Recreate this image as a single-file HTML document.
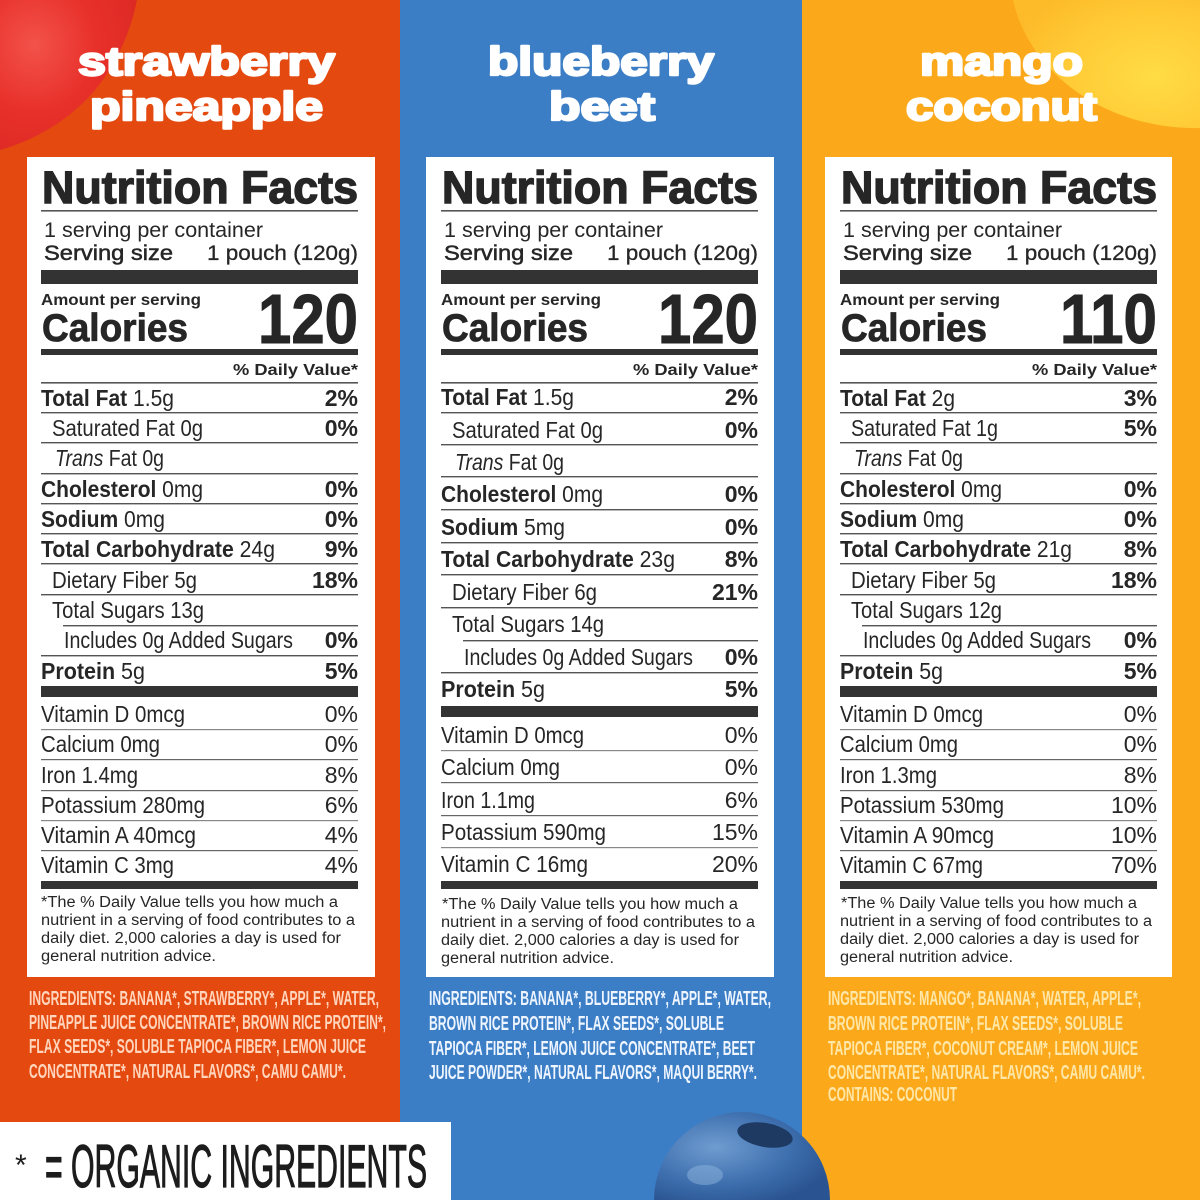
<!DOCTYPE html>
<html><head><meta charset="utf-8"><style>
html,body{margin:0;padding:0;background:#fff;width:1200px;height:1200px;overflow:hidden;}
svg{display:block;font-family:"Liberation Sans",Arial,sans-serif;}
</style></head><body>
<svg width="1200" height="1200" viewBox="0 0 1200 1200" xmlns="http://www.w3.org/2000/svg">
<defs>
<radialGradient id="straw" cx="0.25" cy="0.3" r="0.9">
<stop offset="0" stop-color="#F2524A"/><stop offset="0.5" stop-color="#E8302A"/><stop offset="1" stop-color="#DA2823"/>
</radialGradient>
<radialGradient id="mango" cx="0.75" cy="0.6" r="0.8">
<stop offset="0" stop-color="#FFDC45"/><stop offset="0.6" stop-color="#FFCA35"/><stop offset="1" stop-color="#FDBB2A"/>
</radialGradient>
<radialGradient id="berry" cx="0.35" cy="0.4" r="0.7">
<stop offset="0" stop-color="#6F9CD0"/><stop offset="0.6" stop-color="#3E6FAE"/><stop offset="1" stop-color="#2A5491"/>
</radialGradient>
</defs>

<!-- backgrounds -->
<rect x="0" y="0" width="400" height="1200" fill="#E4490F"/>
<rect x="400" y="0" width="402" height="1200" fill="#3B7EC6"/>
<rect x="802" y="0" width="398" height="1200" fill="#FBA91B"/>

<!-- strawberry -->
<path d="M0 0 L137 0 C128 45 105 85 75 110 C52 130 25 143 0 150 Z" fill="url(#straw)"/>
<!-- mango -->
<path d="M1013 0 A185 158 0 0 0 1200 128 L1200 0 Z" fill="url(#mango)"/>
<!-- blueberry -->
<path d="M654 1200 A88 88 0 0 1 830 1200 Z" fill="url(#berry)"/>
<ellipse cx="765" cy="1135" rx="28" ry="12" fill="#1E3A63" transform="rotate(10 765 1135)"/>
<ellipse cx="705" cy="1175" rx="18" ry="10" fill="#8DB3DE" opacity="0.5"/>

<!-- flavor titles -->
<g fill="#fff" stroke="#fff" stroke-width="2.4" font-weight="bold" font-size="40" stroke-linejoin="round">
<text x="78" y="75" textLength="257" lengthAdjust="spacingAndGlyphs">strawberry</text>
<text x="90" y="120" textLength="233" lengthAdjust="spacingAndGlyphs">pineapple</text>
<text x="488" y="75" textLength="226" lengthAdjust="spacingAndGlyphs">blueberry</text>
<text x="549" y="120" textLength="106" lengthAdjust="spacingAndGlyphs">beet</text>
<text x="920" y="75" textLength="163" lengthAdjust="spacingAndGlyphs">mango</text>
<text x="906" y="120" textLength="191" lengthAdjust="spacingAndGlyphs">coconut</text>
</g>

<!-- white label boxes -->
<rect x="27" y="157" width="348" height="820" fill="#fff"/>
<rect x="426" y="157" width="348" height="820" fill="#fff"/>
<rect x="825" y="157" width="347" height="820" fill="#fff"/>

<!-- common header for three labels -->
<g id="hdrL" fill="#262626">
<text x="42" y="203" font-size="45" font-weight="bold" stroke="#262626" stroke-width="1.4" textLength="316" lengthAdjust="spacingAndGlyphs">Nutrition Facts</text>
<rect x="41" y="210" width="317" height="1.6" fill="#555"/>
<text x="44" y="237" font-size="21" textLength="219" lengthAdjust="spacingAndGlyphs">1 serving per container</text>
<text x="44" y="260" font-size="21" stroke="#262626" stroke-width="0.5" textLength="129" lengthAdjust="spacingAndGlyphs">Serving size</text>
<text x="358" y="260" font-size="21" text-anchor="end" stroke="#262626" stroke-width="0.3" textLength="151" lengthAdjust="spacingAndGlyphs">1 pouch (120g)</text>
<rect x="41" y="270" width="317" height="14" fill="#333"/>
<text x="41" y="305" font-size="16" font-weight="bold" textLength="160" lengthAdjust="spacingAndGlyphs">Amount per serving</text>
<text x="42" y="341" font-size="39" font-weight="bold" stroke="#262626" stroke-width="0.8" textLength="146" lengthAdjust="spacingAndGlyphs">Calories</text>
<rect x="41" y="349" width="317" height="6" fill="#333"/>
<text x="358" y="375" font-size="16" font-weight="bold" text-anchor="end" textLength="125" lengthAdjust="spacingAndGlyphs">% Daily Value*</text>
<rect x="41" y="382" width="317" height="1.6" fill="#555"/>
</g>
<use href="#hdrL" transform="translate(400,0)"/>
<use href="#hdrL" transform="translate(799,0)"/>

<!-- Calories numbers -->
<g fill="#262626" font-size="70" font-weight="bold" stroke="#262626" stroke-width="1" text-anchor="end">
<text x="358" y="343" textLength="100" lengthAdjust="spacingAndGlyphs">120</text>
<text x="758" y="343" textLength="100" lengthAdjust="spacingAndGlyphs">120</text>
<text x="1157" y="343" textLength="97" lengthAdjust="spacingAndGlyphs">110</text>
</g>

<!-- LEFT panel rows -->
<g fill="#262626" font-size="23">
<g fill="#555">
<rect x="41" y="412" width="317" height="1.4"/>
<rect x="41" y="442" width="317" height="1.4"/>
<rect x="41" y="473" width="317" height="1.4"/>
<rect x="41" y="503" width="317" height="1.4"/>
<rect x="41" y="533" width="317" height="1.4"/>
<rect x="41" y="563" width="317" height="1.4"/>
<rect x="41" y="594" width="317" height="1.4"/>
<rect x="63" y="625" width="295" height="1.4"/>
<rect x="41" y="655" width="317" height="1.4"/>
<rect x="41" y="686" width="317" height="11" fill="#333"/>
<rect x="41" y="729" width="317" height="1.2" fill="#888"/>
<rect x="41" y="759" width="317" height="1.2" fill="#666"/>
<rect x="41" y="790" width="317" height="1.2" fill="#666"/>
<rect x="41" y="820" width="317" height="1.2" fill="#888"/>
<rect x="41" y="850" width="317" height="1.2" fill="#666"/>
<rect x="41" y="881" width="317" height="8" fill="#333"/>
</g>
<text x="41" y="406" textLength="133" lengthAdjust="spacingAndGlyphs"><tspan font-weight="bold">Total Fat</tspan> 1.5g</text>
<text x="52" y="436" textLength="151" lengthAdjust="spacingAndGlyphs">Saturated Fat 0g</text>
<text x="55" y="466" textLength="109" lengthAdjust="spacingAndGlyphs"><tspan font-style="italic">Trans</tspan> Fat 0g</text>
<text x="41" y="497" textLength="162" lengthAdjust="spacingAndGlyphs"><tspan font-weight="bold">Cholesterol</tspan> 0mg</text>
<text x="41" y="527" textLength="124" lengthAdjust="spacingAndGlyphs"><tspan font-weight="bold">Sodium</tspan> 0mg</text>
<text x="41" y="557" textLength="234" lengthAdjust="spacingAndGlyphs"><tspan font-weight="bold">Total Carbohydrate</tspan> 24g</text>
<text x="52" y="588" textLength="145" lengthAdjust="spacingAndGlyphs">Dietary Fiber 5g</text>
<text x="52" y="618" textLength="152" lengthAdjust="spacingAndGlyphs">Total Sugars 13g</text>
<text x="64" y="648" textLength="229" lengthAdjust="spacingAndGlyphs">Includes 0g Added Sugars</text>
<text x="41" y="679" textLength="104" lengthAdjust="spacingAndGlyphs"><tspan font-weight="bold">Protein</tspan> 5g</text>
<g font-weight="bold" text-anchor="end">
<text x="358" y="406">2%</text><text x="358" y="436">0%</text>
<text x="358" y="497">0%</text><text x="358" y="527">0%</text>
<text x="358" y="557">9%</text><text x="358" y="588">18%</text>
<text x="358" y="648">0%</text><text x="358" y="679">5%</text>
</g>
<text x="41" y="722" textLength="144" lengthAdjust="spacingAndGlyphs">Vitamin D 0mcg</text>
<text x="41" y="752" textLength="119" lengthAdjust="spacingAndGlyphs">Calcium 0mg</text>
<text x="41" y="783" textLength="97" lengthAdjust="spacingAndGlyphs">Iron 1.4mg</text>
<text x="41" y="813" textLength="164" lengthAdjust="spacingAndGlyphs">Potassium 280mg</text>
<text x="41" y="843" textLength="155" lengthAdjust="spacingAndGlyphs">Vitamin A 40mcg</text>
<text x="41" y="873" textLength="133" lengthAdjust="spacingAndGlyphs">Vitamin C 3mg</text>
<g text-anchor="end">
<text x="358" y="722">0%</text><text x="358" y="752">0%</text><text x="358" y="783">8%</text>
<text x="358" y="813">6%</text><text x="358" y="843">4%</text><text x="358" y="873">4%</text>
</g>
<g font-size="15.5">
<text x="41" y="907" textLength="297" lengthAdjust="spacingAndGlyphs">*The % Daily Value tells you how much a</text>
<text x="41" y="925" textLength="314" lengthAdjust="spacingAndGlyphs">nutrient in a serving of food contributes to a</text>
<text x="41" y="943" textLength="300" lengthAdjust="spacingAndGlyphs">daily diet. 2,000 calories a day is used for</text>
<text x="41" y="961" textLength="175" lengthAdjust="spacingAndGlyphs">general nutrition advice.</text>
</g>
</g>

<!-- MIDDLE panel rows -->
<g fill="#262626" font-size="23" transform="translate(400,0)">
<g fill="#555">
<rect x="41" y="412" width="317" height="1.4"/>
<rect x="41" y="444" width="317" height="1.4"/>
<rect x="41" y="476" width="317" height="1.4"/>
<rect x="41" y="509" width="317" height="1.4"/>
<rect x="41" y="542" width="317" height="1.4"/>
<rect x="41" y="574" width="317" height="1.4"/>
<rect x="41" y="607" width="317" height="1.4"/>
<rect x="63" y="640" width="295" height="1.4"/>
<rect x="41" y="672" width="317" height="1.4"/>
<rect x="41" y="706" width="317" height="11" fill="#333"/>
<rect x="41" y="750" width="317" height="1.2" fill="#888"/>
<rect x="41" y="782" width="317" height="1.2" fill="#666"/>
<rect x="41" y="815" width="317" height="1.2" fill="#666"/>
<rect x="41" y="847" width="317" height="1.2" fill="#888"/>
<rect x="41" y="881" width="317" height="8" fill="#333"/>
</g>
<text x="41" y="405" textLength="133" lengthAdjust="spacingAndGlyphs"><tspan font-weight="bold">Total Fat</tspan> 1.5g</text>
<text x="52" y="438" textLength="151" lengthAdjust="spacingAndGlyphs">Saturated Fat 0g</text>
<text x="55" y="470" textLength="109" lengthAdjust="spacingAndGlyphs"><tspan font-style="italic">Trans</tspan> Fat 0g</text>
<text x="41" y="502" textLength="162" lengthAdjust="spacingAndGlyphs"><tspan font-weight="bold">Cholesterol</tspan> 0mg</text>
<text x="41" y="535" textLength="124" lengthAdjust="spacingAndGlyphs"><tspan font-weight="bold">Sodium</tspan> 5mg</text>
<text x="41" y="567" textLength="234" lengthAdjust="spacingAndGlyphs"><tspan font-weight="bold">Total Carbohydrate</tspan> 23g</text>
<text x="52" y="600" textLength="145" lengthAdjust="spacingAndGlyphs">Dietary Fiber 6g</text>
<text x="52" y="632" textLength="152" lengthAdjust="spacingAndGlyphs">Total Sugars 14g</text>
<text x="64" y="665" textLength="229" lengthAdjust="spacingAndGlyphs">Includes 0g Added Sugars</text>
<text x="41" y="697" textLength="104" lengthAdjust="spacingAndGlyphs"><tspan font-weight="bold">Protein</tspan> 5g</text>
<g font-weight="bold" text-anchor="end">
<text x="358" y="405">2%</text><text x="358" y="438">0%</text>
<text x="358" y="502">0%</text><text x="358" y="535">0%</text>
<text x="358" y="567">8%</text><text x="358" y="600">21%</text>
<text x="358" y="665">0%</text><text x="358" y="697">5%</text>
</g>
<text x="41" y="743" textLength="143" lengthAdjust="spacingAndGlyphs">Vitamin D 0mcg</text>
<text x="41" y="775" textLength="119" lengthAdjust="spacingAndGlyphs">Calcium 0mg</text>
<text x="41" y="808" textLength="94" lengthAdjust="spacingAndGlyphs">Iron 1.1mg</text>
<text x="41" y="840" textLength="165" lengthAdjust="spacingAndGlyphs">Potassium 590mg</text>
<text x="41" y="872" textLength="147" lengthAdjust="spacingAndGlyphs">Vitamin C 16mg</text>
<g text-anchor="end">
<text x="358" y="743">0%</text><text x="358" y="775">0%</text><text x="358" y="808">6%</text>
<text x="358" y="840">15%</text><text x="358" y="872">20%</text>
</g>
<g font-size="15.5">
<text x="42" y="909" textLength="296" lengthAdjust="spacingAndGlyphs">*The % Daily Value tells you how much a</text>
<text x="41" y="927" textLength="314" lengthAdjust="spacingAndGlyphs">nutrient in a serving of food contributes to a</text>
<text x="41" y="945" textLength="298" lengthAdjust="spacingAndGlyphs">daily diet. 2,000 calories a day is used for</text>
<text x="41" y="963" textLength="173" lengthAdjust="spacingAndGlyphs">general nutrition advice.</text>
</g>
</g>

<!-- RIGHT panel rows -->
<g fill="#262626" font-size="23" transform="translate(799,0)">
<g fill="#555">
<rect x="41" y="412" width="317" height="1.4"/>
<rect x="41" y="442" width="317" height="1.4"/>
<rect x="41" y="473" width="317" height="1.4"/>
<rect x="41" y="503" width="317" height="1.4"/>
<rect x="41" y="533" width="317" height="1.4"/>
<rect x="41" y="563" width="317" height="1.4"/>
<rect x="41" y="594" width="317" height="1.4"/>
<rect x="63" y="625" width="295" height="1.4"/>
<rect x="41" y="655" width="317" height="1.4"/>
<rect x="41" y="686" width="317" height="11" fill="#333"/>
<rect x="41" y="729" width="317" height="1.2" fill="#888"/>
<rect x="41" y="759" width="317" height="1.2" fill="#666"/>
<rect x="41" y="790" width="317" height="1.2" fill="#666"/>
<rect x="41" y="820" width="317" height="1.2" fill="#888"/>
<rect x="41" y="850" width="317" height="1.2" fill="#666"/>
<rect x="41" y="881" width="317" height="8" fill="#333"/>
</g>
<text x="41" y="406" textLength="115" lengthAdjust="spacingAndGlyphs"><tspan font-weight="bold">Total Fat</tspan> 2g</text>
<text x="52" y="436" textLength="147" lengthAdjust="spacingAndGlyphs">Saturated Fat 1g</text>
<text x="55" y="466" textLength="109" lengthAdjust="spacingAndGlyphs"><tspan font-style="italic">Trans</tspan> Fat 0g</text>
<text x="41" y="497" textLength="162" lengthAdjust="spacingAndGlyphs"><tspan font-weight="bold">Cholesterol</tspan> 0mg</text>
<text x="41" y="527" textLength="124" lengthAdjust="spacingAndGlyphs"><tspan font-weight="bold">Sodium</tspan> 0mg</text>
<text x="41" y="557" textLength="232" lengthAdjust="spacingAndGlyphs"><tspan font-weight="bold">Total Carbohydrate</tspan> 21g</text>
<text x="52" y="588" textLength="145" lengthAdjust="spacingAndGlyphs">Dietary Fiber 5g</text>
<text x="52" y="618" textLength="151" lengthAdjust="spacingAndGlyphs">Total Sugars 12g</text>
<text x="64" y="648" textLength="228" lengthAdjust="spacingAndGlyphs">Includes 0g Added Sugars</text>
<text x="41" y="679" textLength="103" lengthAdjust="spacingAndGlyphs"><tspan font-weight="bold">Protein</tspan> 5g</text>
<g font-weight="bold" text-anchor="end">
<text x="358" y="406">3%</text><text x="358" y="436">5%</text>
<text x="358" y="497">0%</text><text x="358" y="527">0%</text>
<text x="358" y="557">8%</text><text x="358" y="588">18%</text>
<text x="358" y="648">0%</text><text x="358" y="679">5%</text>
</g>
<text x="41" y="722" textLength="143" lengthAdjust="spacingAndGlyphs">Vitamin D 0mcg</text>
<text x="41" y="752" textLength="118" lengthAdjust="spacingAndGlyphs">Calcium 0mg</text>
<text x="41" y="783" textLength="97" lengthAdjust="spacingAndGlyphs">Iron 1.3mg</text>
<text x="41" y="813" textLength="164" lengthAdjust="spacingAndGlyphs">Potassium 530mg</text>
<text x="41" y="843" textLength="154" lengthAdjust="spacingAndGlyphs">Vitamin A 90mcg</text>
<text x="41" y="873" textLength="143" lengthAdjust="spacingAndGlyphs">Vitamin C 67mg</text>
<g text-anchor="end">
<text x="358" y="722">0%</text><text x="358" y="752">0%</text><text x="358" y="783">8%</text>
<text x="358" y="813">10%</text><text x="358" y="843">10%</text><text x="358" y="873">70%</text>
</g>
<g font-size="15.5">
<text x="42" y="908" textLength="296" lengthAdjust="spacingAndGlyphs">*The % Daily Value tells you how much a</text>
<text x="41" y="926" textLength="312" lengthAdjust="spacingAndGlyphs">nutrient in a serving of food contributes to a</text>
<text x="41" y="944" textLength="299" lengthAdjust="spacingAndGlyphs">daily diet. 2,000 calories a day is used for</text>
<text x="41" y="962" textLength="173" lengthAdjust="spacingAndGlyphs">general nutrition advice.</text>
</g>
</g>

<!-- ingredients -->
<g font-size="20.5" font-weight="bold">
<g fill="#FFD6BD">
<text x="29" y="1005" textLength="350" lengthAdjust="spacingAndGlyphs">INGREDIENTS: BANANA*, STRAWBERRY*, APPLE*, WATER,</text>
<text x="29" y="1029" textLength="357" lengthAdjust="spacingAndGlyphs">PINEAPPLE JUICE CONCENTRATE*, BROWN RICE PROTEIN*,</text>
<text x="29" y="1053" textLength="337" lengthAdjust="spacingAndGlyphs">FLAX SEEDS*, SOLUBLE TAPIOCA FIBER*, LEMON JUICE</text>
<text x="29" y="1078" textLength="317" lengthAdjust="spacingAndGlyphs">CONCENTRATE*, NATURAL FLAVORS*, CAMU CAMU*.</text>
</g>
<g fill="#EEF5FF">
<text x="429" y="1005" textLength="342" lengthAdjust="spacingAndGlyphs">INGREDIENTS: BANANA*, BLUEBERRY*, APPLE*, WATER,</text>
<text x="429" y="1030" textLength="295" lengthAdjust="spacingAndGlyphs">BROWN RICE PROTEIN*, FLAX SEEDS*, SOLUBLE</text>
<text x="429" y="1055" textLength="326" lengthAdjust="spacingAndGlyphs">TAPIOCA FIBER*, LEMON JUICE CONCENTRATE*, BEET</text>
<text x="429" y="1079" textLength="328" lengthAdjust="spacingAndGlyphs">JUICE POWDER*, NATURAL FLAVORS*, MAQUI BERRY*.</text>
</g>
<g fill="#FFE7A8">
<text x="828" y="1005" textLength="313" lengthAdjust="spacingAndGlyphs">INGREDIENTS: MANGO*, BANANA*, WATER, APPLE*,</text>
<text x="828" y="1030" textLength="295" lengthAdjust="spacingAndGlyphs">BROWN RICE PROTEIN*, FLAX SEEDS*, SOLUBLE</text>
<text x="828" y="1055" textLength="310" lengthAdjust="spacingAndGlyphs">TAPIOCA FIBER*, COCONUT CREAM*, LEMON JUICE</text>
<text x="828" y="1079" textLength="317" lengthAdjust="spacingAndGlyphs">CONCENTRATE*, NATURAL FLAVORS*, CAMU CAMU*.</text>
<text x="828" y="1101" textLength="129" lengthAdjust="spacingAndGlyphs">CONTAINS: COCONUT</text>
</g>
</g>

<!-- bottom organic box -->
<rect x="0" y="1122" width="451" height="78" fill="#fff"/>
<text x="15" y="1175" font-size="30" fill="#1c1c1c">*</text>
<text x="45" y="1187" font-size="60" fill="#1c1c1c" stroke="#1c1c1c" stroke-width="1.2" textLength="382" lengthAdjust="spacingAndGlyphs">= ORGANIC INGREDIENTS</text>
</svg>
</body></html>
